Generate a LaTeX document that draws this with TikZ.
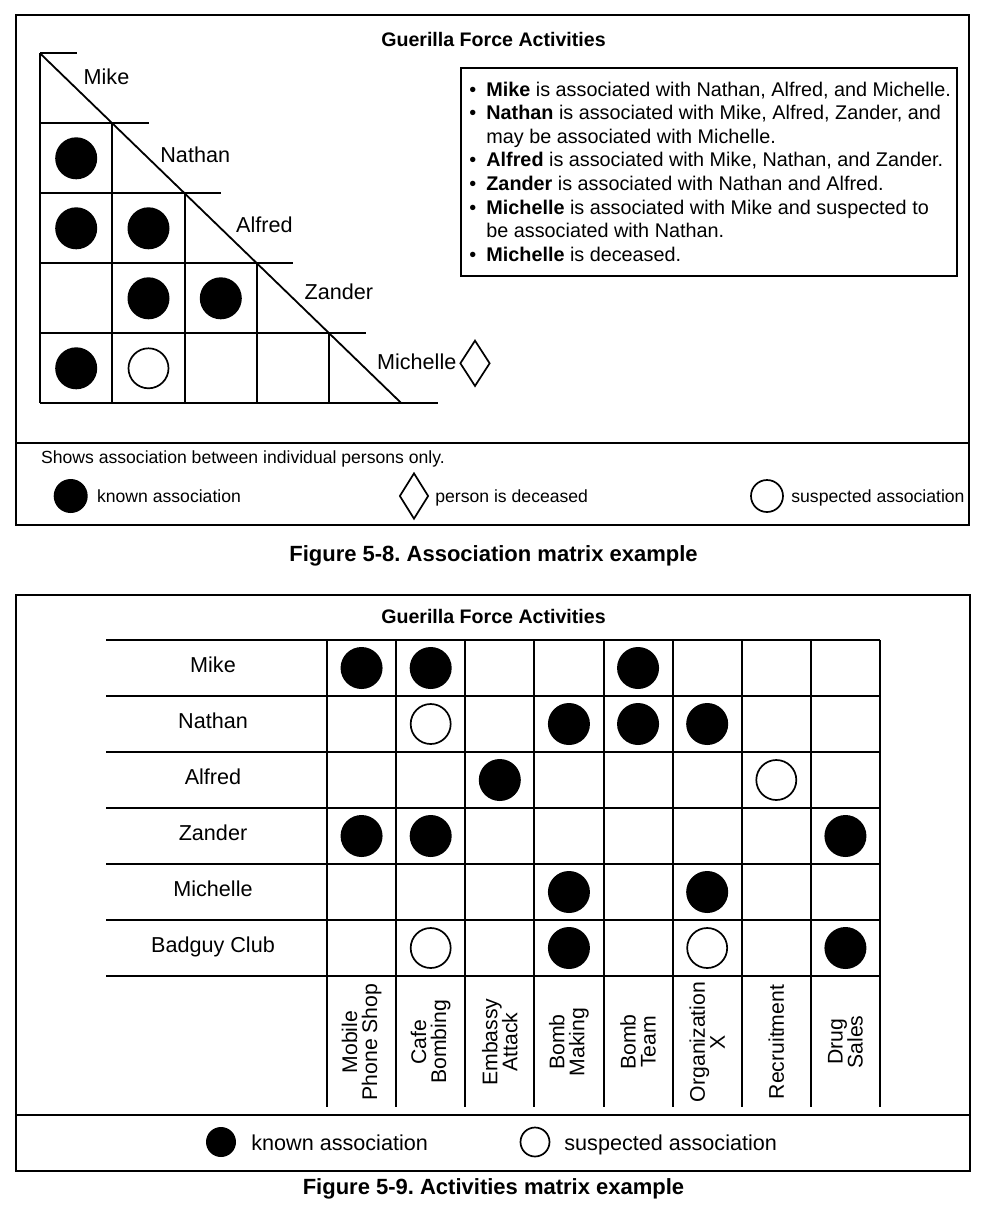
\documentclass[tikz,border=0pt]{standalone}
\usepackage{fontspec}
\setmainfont{Liberation Sans}
\usetikzlibrary{shapes.geometric}
\newcommand{\listdot}{\makebox[8.5pt][l]{\textbullet}}
\frenchspacing

\begin{document}
\begin{tikzpicture}[x=0.5pt,y=-0.5pt,
  known/.style={circle,fill=black,inner sep=0pt,minimum size=21pt},
  suspect/.style={circle,draw=black,line width=0.85pt,fill=white,inner sep=0pt,minimum size=20pt},
  dead/.style={diamond,draw=black,line width=0.85pt,inner sep=0pt,minimum width=15pt,minimum height=23pt},
  gridline/.style={line width=1pt},
  outerbox/.style={line width=1.3pt},
  personname/.style={inner sep=0pt,font=\fontsize{10.8}{13}\selectfont},
  listtext/.style={inner sep=0pt,anchor=base west,font=\fontsize{9.9}{11.8}\selectfont},
  legtext/.style={inner sep=0pt,anchor=base west,font=\fontsize{8.8}{10.5}\selectfont},
  headtext/.style={inner sep=0pt,anchor=base,font=\fontsize{9.8}{12}\selectfont\bfseries},
  captext/.style={inner sep=0pt,anchor=base,font=\fontsize{11}{13}\selectfont\bfseries},
  actlabel/.style={inner sep=0pt,rotate=90,align=center,font=\fontsize{10.6}{10}\selectfont}]
\useasboundingbox (0,0) rectangle (996,1212);
\fill[white] (0,0) rectangle (996,1212);

% Figure 5-8: association matrix
\draw[outerbox] (16,15) rectangle (969,525);
\draw[outerbox] (16,443) -- (969,443);
\node[headtext] (t1) at (493.5,46) {Guerilla Force Activities};
\draw[gridline] (40,53.3) -- (40,403.3);
\foreach \k in {0,...,5}
  \draw[gridline] (40,{53.3+70*\k}) -- ({76.5+72.3*\k},{53.3+70*\k});
\foreach \k in {1,...,4}
  \draw[gridline] ({40+72.3*\k},{53.3+70*\k}) -- ({40+72.3*\k},403.3);
\draw[line width=0.9pt] (40,53.3) -- (401.5,403.3);
\node[personname,anchor=base west] (mike) at (83.3,84) {Mike};
\node[personname,anchor=base west] (nathan) at (160,162) {Nathan};
\node[personname,anchor=base west] (alfred) at (235.7,232) {Alfred};
\node[personname,anchor=base west] (zander) at (304.3,299) {Zander};
\node[personname,anchor=base west] (michelle) at (376.7,369) {Michelle};
\node[dead] (michelledead) at (475,363.3) {};
\foreach \r/\c in {1/0,2/0,2/1,3/1,3/2,4/0}
  \node[known] (as-\r-\c) at ({76.2+72.3*\c},{88.3+70*\r}) {};
\node[suspect] (as-4-1) at ({76.2+72.3},{88.3+70*4}) {};

% bullet list
\draw[line width=1pt] (460.7,68.3) rectangle (957,276);
\node[listtext] (l1) at (469,96) {\listdot\textbf{Mike} is associated with Nathan, Alfred, and Michelle.};
\node[listtext] (l2) at (469,119.6) {\listdot\textbf{Nathan} is associated with Mike, Alfred, Zander, and};
\node[listtext] (l3) at (486,143.2) {may be associated with Michelle.};
\node[listtext] (l4) at (469,166.8) {\listdot\textbf{Alfred} is associated with Mike, Nathan, and Zander.};
\node[listtext] (l5) at (469,190.4) {\listdot\textbf{Zander} is associated with Nathan and Alfred.};
\node[listtext] (l6) at (469,214) {\listdot\textbf{Michelle} is associated with Mike and suspected to};
\node[listtext] (l7) at (486,237.6) {be associated with Nathan.};
\node[listtext] (l8) at (469,261.2) {\listdot\textbf{Michelle} is deceased.};

% legend
\node[legtext] (note) at (40.7,463) {Shows association between individual persons only.};
\node[known,minimum size=17pt] (lgknown) at (70.7,496) {};
\node[legtext] at (96.7,502) {known association};
\node[dead,minimum width=14.5pt] (lgdead) at (414,496) {};
\node[legtext] at (435,502) {person is deceased};
\node[suspect,minimum size=16pt] (lgsuspect) at (767,496) {};
\node[legtext] at (791,502) {suspected association};
\node[captext] (cap1) at (493.5,561) {Figure 5-8. Association matrix example};

% Figure 5-9: activities matrix
\draw[outerbox] (16,595) rectangle (970,1171);
\draw[outerbox] (16,1115) -- (970,1115);
\node[headtext] (t2) at (493.5,623) {Guerilla Force Activities};
\foreach \r in {0,...,6}
  \draw[gridline] (106,{640+56*\r}) -- (880,{640+56*\r});
\foreach \c in {0,...,8}
  \draw[gridline] ({327+69.125*\c},640) -- ({327+69.125*\c},1107);
\foreach \r/\who in {0/Mike,1/Nathan,2/Alfred,3/Zander,4/Michelle,5/Badguy Club}
  \node[personname,anchor=base] (row-\r) at (213,{672+56*\r}) {\who};
\foreach \c/\what in {1/{Mobile\\Phone Shop},2/{Cafe\\Bombing},3/{Embassy\\Attack},4/{Bomb\\Making},
    5/{Bomb\\Team},6/{Organization\\X},7/{Recruitment},8/{Drug\\Sales}}
  \node[actlabel] (col-\c) at ({327+69.125*(\c-0.5)},1042) {\what};
\foreach \r/\c in {0/1,0/2,0/5,1/4,1/5,1/6,2/3,3/1,3/2,3/8,4/4,4/6,5/4,5/8}
  \node[known] (act-\r-\c) at ({327+69.125*(\c-0.5)},{668+56*\r}) {};
\foreach \r/\c in {1/2,2/7,5/2,5/6}
  \node[suspect] (act-\r-\c) at ({327+69.125*(\c-0.5)},{668+56*\r}) {};

% legend
\node[known,minimum size=15pt] (lgknown2) at (221,1142) {};
\node[personname,anchor=base west] at (251,1150) {known association};
\node[suspect,minimum size=14.5pt] (lgsuspect2) at (535,1142) {};
\node[personname,anchor=base west] at (564,1150) {suspected association};
\node[captext] (cap2) at (493.5,1194) {Figure 5-9. Activities matrix example};
\end{tikzpicture}
\end{document}
